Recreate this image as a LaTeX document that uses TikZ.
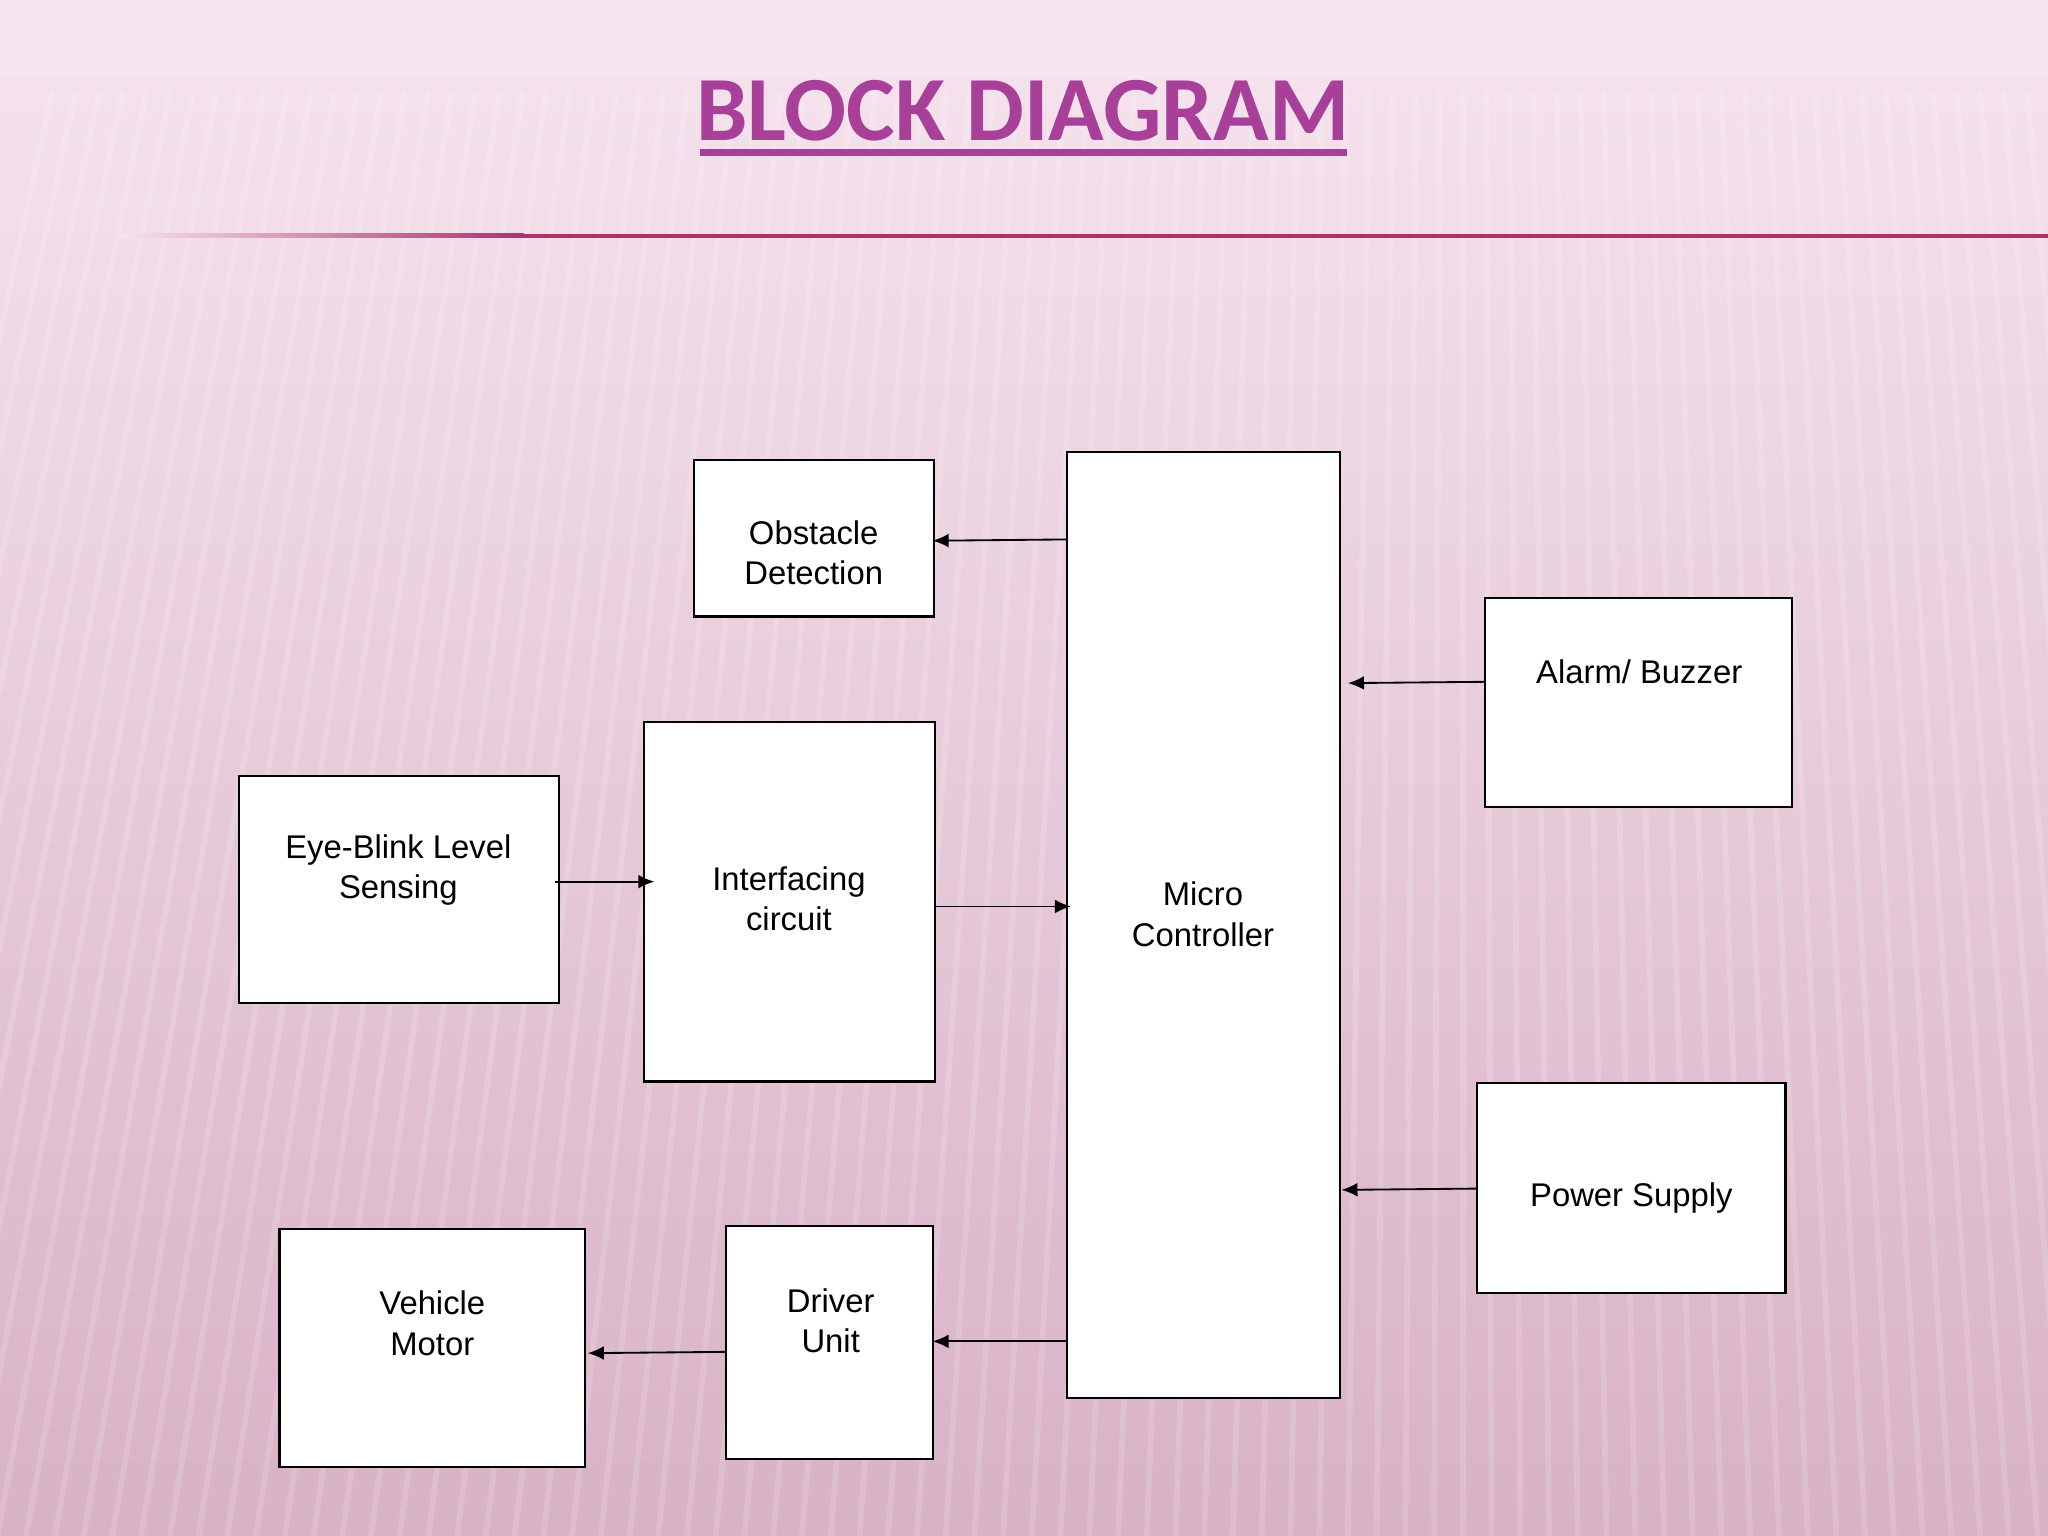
\documentclass[tikz,border=0pt]{standalone}
\usepackage{fontspec}
\setmainfont{Liberation Sans}
\newfontfamily\titlefont{Carlito}
\usetikzlibrary{arrows.meta}
\definecolor{bgtop}{HTML}{F6E4EE}
\definecolor{bgbot}{HTML}{D8B2C5}
\definecolor{ttl}{HTML}{A8409A}
\definecolor{rl}{HTML}{B0306A}
\begin{document}
\begin{tikzpicture}[x=0.02cm,y=-0.02cm,
  box/.style={draw=black,line width=0.9pt,fill=white},
  txt/.style={font=\fontsize{14.3}{17.6}\selectfont,align=center,inner sep=0},
  arr/.style={line width=0.8pt,-{Latex[length=7pt,width=6pt]}}]
\useasboundingbox (0,0) rectangle (1568,1176);
\shade[top color=bgtop,bottom color=bgbot] (0,0) rectangle (1568,1176);
\foreach \i in {0,...,90}{
  \draw[white,opacity=0.15,line width=2.5pt] (40+\i*18,70) -- (-200+\i*22,1176);
}
\shade[top color=bgtop,bottom color=bgtop,middle color=bgtop!60!bgbot,opacity=0] (0,0) rectangle (1568,1);
\fill[bgtop] (0,0) rectangle (1568,60);
\node[font=\titlefont\bfseries\fontsize{40}{46}\selectfont,text=ttl,inner sep=0] (title) at (783,85) {BLOCK DIAGRAM};
\draw[ttl,line width=3pt] (536,117) -- (1031,117);
\shade[left color=bgtop,right color=rl] (90,179) rectangle (401,182);
\fill[rl] (400,179) rectangle (1568,182);
% boxes
\path[box] (531,352) rectangle (715,472);
\path[box] (817,346) rectangle (1026,1070);
\path[box] (1137,458) rectangle (1372,618);
\path[box] (183,594) rectangle (428,768);
\path[box] (493,553) rectangle (716,828);
\path[box] (1131,829) rectangle (1367,990);
\path[box] (214,941) rectangle (448,1123);
\path[box] (556,939) rectangle (714,1117);
\node[txt] (tobs) at (623,423) {Obstacle\\Detection};
\node[txt] (tmc) at (921,700) {Micro\\Controller};
\node[txt] (tal) at (1255,514) {Alarm/ Buzzer};
\node[txt] (teb) at (305,666) {Eye-Blink Level\\Sensing};
\node[txt] (tif) at (604,688) {Interfacing\\circuit};
\node[txt] (tps) at (1249,917) {Power Supply};
\node[txt] (tvm) at (331,1013) {Vehicle\\Motor};
\node[txt] (tdu) at (636,1011) {Driver\\Unit};
% connectors
\coordinate (a1) at (817,413); \coordinate (b1) at (714,414);
\coordinate (a2) at (1137,522); \coordinate (b2) at (1032,523);
\coordinate (a3) at (425,675); \coordinate (b3) at (501,675);
\coordinate (a4) at (716,694); \coordinate (b4) at (820,694);
\coordinate (a5) at (1131,910); \coordinate (b5) at (1027,911);
\coordinate (a6) at (817,1027); \coordinate (b6) at (714,1027);
\coordinate (a7) at (556,1035); \coordinate (b7) at (450,1036);
\foreach \n in {1,...,7}{\draw[arr] (a\n) -- (b\n);}
\end{tikzpicture}
\end{document}
